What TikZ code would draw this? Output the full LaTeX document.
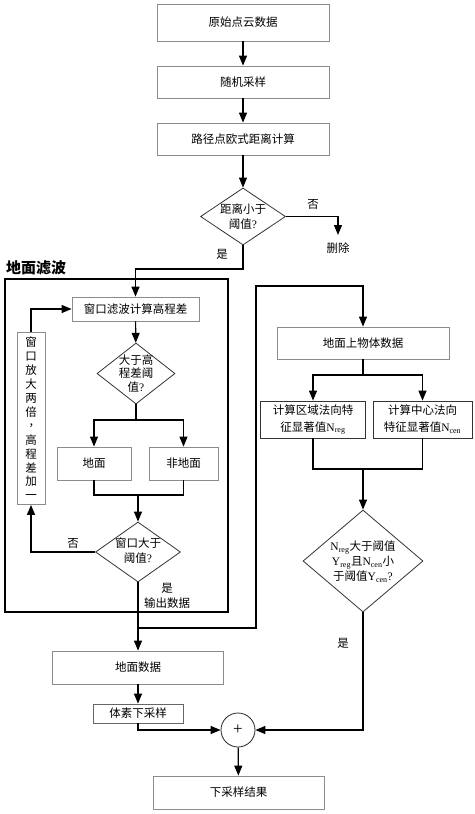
\documentclass[tikz,border=0pt]{standalone}
\usepackage{fontspec}
\setmainfont{Liberation Serif}
\newfontfamily\cjk{Noto Sans CJK SC}
\usetikzlibrary{shapes.geometric,arrows.meta,calc}
\begin{document}
\begin{tikzpicture}[x=1pt,y=-1pt,
  every node/.style={font=\cjk\fontsize{11.5}{14}\selectfont},
  gbox/.style={draw=black!45,line width=0.8pt,rectangle,inner sep=0pt,align=center},
  kbox/.style={draw=black!80,line width=0.8pt,rectangle,inner sep=0pt,align=center},
  dia/.style={draw=black!80,line width=0.8pt,diamond,inner sep=0pt},
  arr/.style={line width=1.2pt,-{Triangle[length=10pt,width=8pt]}},
  ln/.style={line width=1.2pt},
  lbl/.style={inner sep=0pt}
]
\useasboundingbox (0,0) rectangle (474,814);
\fill[white] (0,0) rectangle (474,814);

% top chain
\node[gbox,minimum width=172pt,minimum height=37pt] (n1) at (243,22.5) {原始点云数据};
\node[gbox,minimum width=172pt,minimum height=32pt] (n2) at (243,82) {随机采样};
\node[gbox,minimum width=172pt,minimum height=32pt] (n3) at (243,139) {路径点欧式距离计算};
\node[dia,minimum width=85pt,minimum height=57pt] (d1) at (243,216.5) {};
\node[align=center,inner sep=0pt,font=\cjk\fontsize{11.5}{15}\selectfont] (d1t) at (243,216.5) {距离小于\\阈值{\rmfamily ?}};
\node[lbl] (del) at (338,248) {删除};
\coordinate (delc) at (338,235);
\node[lbl] (no1) at (313,204) {否};
\node[lbl] (yes1) at (222,254) {是};
\draw[arr] (n1) -- (n2);
\draw[arr] (n2) -- (n3);
\draw[arr] (n3) -- (d1);
\draw[arr] (d1.east) -| (delc);

% ground filter frame
\node[draw,line width=2.5pt,minimum width=223pt,minimum height=333pt,inner sep=0pt] (frame) at (116.5,445.5) {};
\node[anchor=west,inner sep=0pt,font=\cjk\bfseries\fontsize{15}{15}\selectfont] (title) at (6,268) {地面滤波};

\node[gbox,minimum width=127pt,minimum height=24pt] (w1) at (135.5,309) {窗口滤波计算高程差};
\coordinate (c1) at (243,269);
\draw[arr] (d1.south) -- (c1) -| (w1.north);

\node[dia,minimum width=78pt,minimum height=61pt] (d2) at (136,373.5) {};
\node[align=center,inner sep=0pt,font=\cjk\fontsize{11.5}{13.5}\selectfont] (d2t) at (136,373.5) {大于高\\程差阈\\值{\rmfamily ?}};
\draw[arr] (w1) -- (d2);

\node[gbox,minimum width=74pt,minimum height=33pt] (g1) at (94,463.5) {地面};
\node[gbox,minimum width=69pt,minimum height=33pt] (g2) at (183.5,463.5) {非地面};
\coordinate (s1) at (136,420);
\draw[arr] (d2.south) -- (s1) -| (g1.north);
\draw[arr] (s1) -| (g2.north);

\node[dia,minimum width=85pt,minimum height=60pt] (d3) at (138,552) {};
\node[align=center,inner sep=0pt,font=\cjk\fontsize{11.5}{15}\selectfont] (d3t) at (138,550.5) {窗口大于\\阈值{\rmfamily ?}};
\coordinate (m1) at (138,495);
\draw[ln] (g1.south) |- (m1);
\draw[ln] (g2.south) |- (m1);
\draw[arr] (m1) -- (d3.north);

\node[gbox,minimum width=28pt,minimum height=172pt,font=\cjk\fontsize{11.5}{13.9}\selectfont] (sb) at (31,418.5) {窗\\口\\放\\大\\两\\倍\\\makebox[1em][l]{\hspace{0.3em}\raisebox{0.3em}{，}}\\高\\程\\差\\加\\一};
\draw[arr] (d3.west) -| (sb.south);
\draw[arr] (sb.north) |- (w1.west);
\node[lbl] (no3) at (73,543) {否};
\node[lbl] (yes3) at (167,588) {是};
\node[lbl] (out) at (167,603) {输出数据};

% bottom chain
\node[gbox,minimum width=171pt,minimum height=33pt] (gd) at (138,667.5) {地面数据};
\draw[arr] (d3.south) -- (gd.north);
\node[gbox,draw=black!60,minimum width=90pt,minimum height=19pt] (vx) at (138,713.5) {体素下采样};
\draw[arr] (gd) -- (vx);
\node[circle,draw=black!85,line width=0.8pt,minimum size=34pt,inner sep=0pt] (circ) at (238,730) {\rmfamily\fontsize{17}{17}\selectfont +};
\draw[arr] (vx.south) |- (circ.west);
\node[gbox,minimum width=171pt,minimum height=33pt] (res) at (238.5,792.5) {下采样结果};
\draw[arr] (circ) -- (res);

% right branch
\coordinate (j0) at (138,628);
\coordinate (j1) at (256,628);
\coordinate (j2) at (256,286);
\node[gbox,minimum width=172pt,minimum height=32pt] (ob) at (363,343) {地面上物体数据};
\draw[arr] (j0) -- (j1) -- (j2) -| (ob.north);

\node[kbox,minimum width=105pt,minimum height=37pt,font=\cjk\fontsize{11.5}{17}\selectfont] (r1) at (313,419.5) {计算区域法向特\\征显著值{\rmfamily N\textsubscript{reg}}};
\node[kbox,minimum width=99pt,minimum height=37pt,font=\cjk\fontsize{11.5}{17}\selectfont] (r2) at (422.5,419.5) {计算中心法向\\特征显著值{\rmfamily N\textsubscript{cen}}};
\coordinate (s2) at (363,375);
\draw[arr] (ob.south) -- (s2) -| (r1.north);
\draw[arr] (s2) -| (r2.north);

\node[dia,minimum width=120pt,minimum height=102pt] (d4) at (363,561) {};
\node[align=center,inner sep=0pt,font=\cjk\fontsize{11.5}{15}\selectfont] (d4t) at (363,562) {{\rmfamily N\textsubscript{reg}}大于阈值\\{\rmfamily Y\textsubscript{reg}}且{\rmfamily N\textsubscript{cen}}小\\于阈值{\rmfamily Y\textsubscript{cen}?}};
\coordinate (m2) at (363,469);
\draw[ln] (r1.south) |- (m2);
\draw[ln] (r2.south) |- (m2);
\draw[arr] (m2) -- (d4.north);
\draw[arr] (d4.south) |- (circ.east);
\node[lbl] (yes4) at (343,643) {是};
\end{tikzpicture}
\end{document}
